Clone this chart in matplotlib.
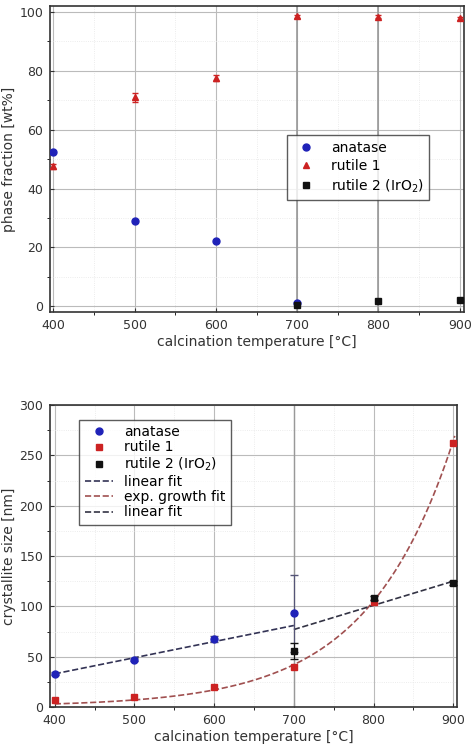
import numpy as np
import matplotlib
matplotlib.use("Agg")
import matplotlib.pyplot as plt
from matplotlib.ticker import MultipleLocator

T = [400, 500, 600, 700, 800, 900]
# phase fractions
ana_T = [400, 500, 600, 700]
ana_frac = [52.5, 29.0, 22.3, 1.0]
rut1_frac = [47.5, 71.0, 77.7, 98.6, 98.3, 97.8]
rut1_frac_err = [0.8, 1.5, 1.0, 0.5, 0.5, 0.5]
rut2_T = [700, 800, 900]
rut2_frac = [0.3, 1.8, 2.0]
# crystallite sizes
ana_size = [33, 47, 68, 93]
ana_size_err = [1.5, 1.5, 3, 38]
rut1_size = [7, 10, 20, 40, 104, 262]
rut2_size = [56, 108, 123]
rut2_size_err = [8, 2, 2]
# fit parameters
lin1 = (33, 81)      # anatase linear fit, 400..700
lin2 = (77, 125)     # rutile 2 linear fit, 700..900
exp_a, exp_b, exp_c = 2.6, 0.00924, 0.5

blue = "#1f22b8"; red = "#cc2222"; black = "#111111"

fig = plt.figure(figsize=(4.74, 7.54), dpi=100)
ax1 = fig.add_axes([0.1055, 0.586, 0.873, 0.406])
ax2 = fig.add_axes([0.1055, 0.0623, 0.859, 0.4005])

for ax in (ax1, ax2):
    ax.tick_params(labelsize=9, direction="in", length=3, colors="#333333", pad=5)
    ax.xaxis.set_minor_locator(MultipleLocator(50))
    for s in ax.spines.values():
        s.set_color("#333333"); s.set_linewidth(1.2)
    ax.grid(True, which="major", color="#bbbbbb", lw=0.8)
    ax.grid(True, which="minor", color="#e6e6e6", lw=0.6, ls=":")
    ax.set_axisbelow(True)
    ax.set_xticks(T)

ax1.set_xlim(396, 905)
ax1.set_ylim(-2, 102)
ax1.yaxis.set_major_locator(MultipleLocator(20))
ax1.yaxis.set_minor_locator(MultipleLocator(10))
for xv in (700, 800):
    ax1.axvline(xv, color="#999999", lw=1.2, zorder=1)
p1, = ax1.plot(ana_T, ana_frac, "o", color=blue, ms=5, label="anatase", zorder=3)
p2 = ax1.errorbar(T, rut1_frac, yerr=rut1_frac_err, fmt="^", color=red, ms=5,
                  capsize=2, elinewidth=0.8, label="rutile 1", zorder=3)
p3, = ax1.plot(rut2_T, rut2_frac, "s", color=black, ms=4.5, label="rutile 2 (IrO$_2$)", zorder=3)
ax1.set_xlabel("calcination temperature [°C]", fontsize=10, color="#333333", labelpad=2)
ax1.set_ylabel("phase fraction [wt%]", fontsize=10, color="#333333", labelpad=2)
ax1.legend([p1, p2[0], p3], ["anatase", "rutile 1", "rutile 2 (IrO$_2$)"],
           loc="upper left", bbox_to_anchor=(0.555, 0.6), fontsize=10,
           frameon=True, fancybox=False, edgecolor="#333333", handletextpad=0.8,
           labelspacing=0.3)

ax2.set_xlim(394, 905)
ax2.set_ylim(0, 300)
ax2.yaxis.set_major_locator(MultipleLocator(50))
ax2.yaxis.set_minor_locator(MultipleLocator(25))
ax2.axvline(700, color="#999999", lw=1.0, zorder=1)
q1 = ax2.errorbar(ana_T, ana_size, yerr=ana_size_err, fmt="o", color=blue, ms=5,
                  capsize=3, elinewidth=0.8, ecolor="#555577", zorder=3)
q2, = ax2.plot(T, rut1_size, "s", color=red, ms=4.5, zorder=3)
q3 = ax2.errorbar(rut2_T, rut2_size, yerr=rut2_size_err, fmt="s", color=black, ms=4.5,
                  capsize=3, elinewidth=0.8, zorder=3)
x1 = np.linspace(400, 700, 50)
f1, = ax2.plot(x1, np.interp(x1, [400, 700], lin1), "--", color="#333355", lw=1.2, zorder=2)
xe = np.linspace(400, 902, 200)
f2, = ax2.plot(xe, exp_c + exp_a * np.exp(exp_b * (xe - 400)), "--", color="#a05050",
               lw=1.2, zorder=2)
x2 = np.linspace(700, 900, 50)
f3, = ax2.plot(x2, np.interp(x2, [700, 900], lin2), "--", color="#333344", lw=1.2, zorder=2)
ax2.set_xlabel("calcination temperature [°C]", fontsize=10, color="#333333", labelpad=2)
ax2.set_ylabel("crystallite size [nm]", fontsize=10, color="#333333", labelpad=2)
ax2.legend([q1[0], q2, q3[0], f1, f2, f3],
           ["anatase", "rutile 1", "rutile 2 (IrO$_2$)", "linear fit", "exp. growth fit", "linear fit"],
           loc="upper left", bbox_to_anchor=(0.055, 0.975), fontsize=10,
           frameon=True, fancybox=False, edgecolor="#333333",
           handletextpad=0.8, labelspacing=0.1)

fig.savefig("out.png", dpi=100)
